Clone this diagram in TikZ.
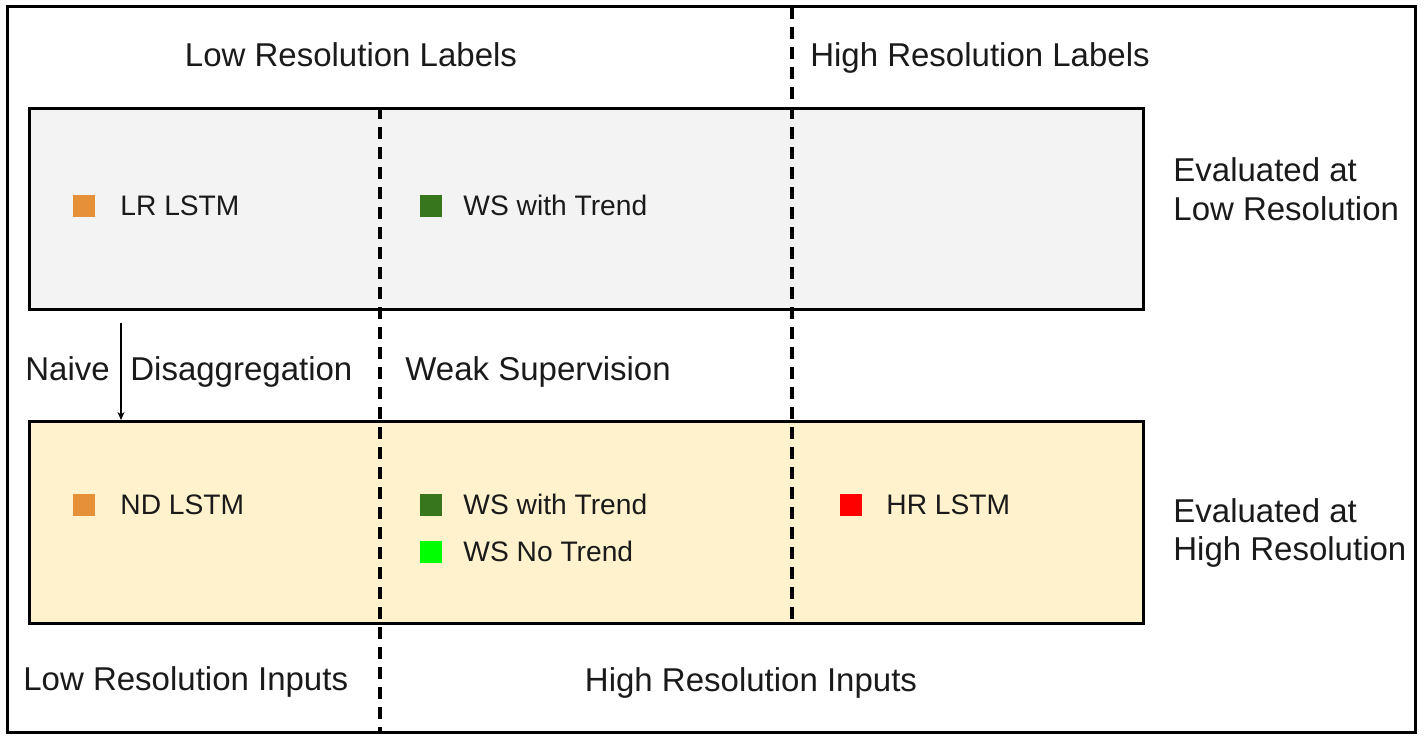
\documentclass[tikz,border=0pt]{standalone}
\usepackage{fontspec}
\setmainfont{Liberation Sans}
\usetikzlibrary{arrows.meta}
\definecolor{boxgray}{HTML}{F3F3F3}
\definecolor{boxyellow}{HTML}{FFF2CC}
\definecolor{sqorange}{HTML}{E69138}
\definecolor{sqdkgreen}{HTML}{38761D}
\definecolor{sqgreen}{HTML}{00FF00}
\definecolor{sqred}{HTML}{FF0000}
\definecolor{txt}{HTML}{1A1A1A}
\begin{document}
\begin{tikzpicture}[x=0.5pt,y=-0.5pt,
  frame/.style={draw=black,line width=1.5pt},
  divider/.style={draw=black,line width=1.6pt,dash pattern=on 6pt off 4pt},
  biglabel/.style={font=\fontsize{16.5}{19}\selectfont,text=txt,inner sep=0pt},
  item/.style={font=\fontsize{14.1}{17}\selectfont,text=txt,inner sep=0pt,anchor=base west},
  marker/.style={minimum size=11pt,inner sep=0pt,draw=none}]
\useasboundingbox (0,0) rectangle (1425,742);
% outer frame
\draw[frame] (7,7) rectangle (1415,733);
% boxes
\node[frame,fill=boxgray,minimum width=557pt,minimum height=100.5pt,inner sep=0pt,anchor=north west] (top) at (28,107) {};
\node[frame,fill=boxyellow,minimum width=557pt,minimum height=101pt,inner sep=0pt,anchor=north west] (bot) at (28,420) {};
% dividers
\coordinate (d1top) at (380,107);
\coordinate (d1bot) at (380,733);
\coordinate (d2top) at (792,7);
\coordinate (d2bot) at (792,622);
\draw[divider] (d1top) -- (d1bot);
\draw[divider] (d2top) -- (d2bot);
% headers
\node[biglabel,anchor=base] (lrl) at (351,66.5) {Low Resolution Labels};
\node[biglabel,anchor=base] (hrl) at (980,66.5) {High Resolution Labels};
\node[biglabel,anchor=base west] (ev1a) at (1173,181.5) {Evaluated at};
\node[biglabel,anchor=base west] (ev1b) at (1173,220.5) {Low Resolution};
\node[biglabel,anchor=base west] (ev2a) at (1173,522.5) {Evaluated at};
\node[biglabel,anchor=base west] (ev2b) at (1173,560.5) {High Resolution};
\node[biglabel,anchor=base west] (naive) at (25,381) {Naive};
\node[biglabel,anchor=base west] (disagg) at (130,381) {Disaggregation};
\node[biglabel,anchor=base west] (weak) at (405,381) {Weak Supervision};
\node[biglabel,anchor=base west] (lri) at (23,690.5) {Low Resolution Inputs};
\node[biglabel,anchor=base] (hri) at (751,692) {High Resolution Inputs};
% markers and items
\node[marker,fill=sqorange] (m1) at (84,206) {};
\node[item] (t1) at (120,216) {LR LSTM};
\node[marker,fill=sqdkgreen] (m2) at (431,206) {};
\node[item] (t2) at (463,216) {WS with Trend};
\node[marker,fill=sqorange] (m3) at (84,505) {};
\node[item] (t3) at (120,515) {ND LSTM};
\node[marker,fill=sqdkgreen] (m4) at (431,505) {};
\node[item] (t4) at (463,515) {WS with Trend};
\node[marker,fill=sqgreen] (m5) at (431,552) {};
\node[item] (t5) at (463,562) {WS No Trend};
\node[marker,fill=sqred] (m6) at (851,505) {};
\node[item] (t6) at (886,515) {HR LSTM};
% arrow
\coordinate (arrS) at (121,323);
\draw[line width=0.6pt,-{Stealth[length=4pt,width=3.5pt]}] (arrS) -- (arrS |- bot.north);
\end{tikzpicture}
\end{document}
